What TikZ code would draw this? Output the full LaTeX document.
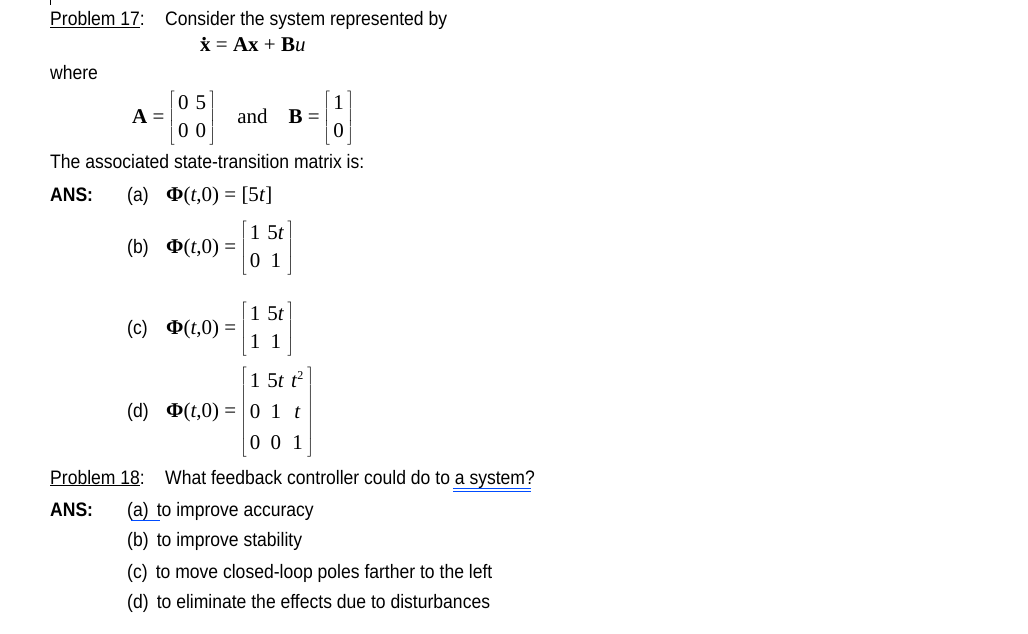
\documentclass[tikz,border=0pt]{standalone}
\usepackage{fontspec}
\setmainfont{Liberation Sans}[FakeStretch=0.9]
\newfontfamily\tm{Liberation Serif}
\begin{document}
\begin{tikzpicture}[x=1pt,y=-1pt,
 txt/.style={anchor=base west,inner sep=0pt,font=\fontsize{19.5}{21}\selectfont},
 mth/.style={anchor=west,inner sep=0pt,font=\fontsize{21}{23}\selectfont\tm},
 blue/.style={draw=blue!70!cyan,line width=1pt}]
\useasboundingbox (0,0) rectangle (1028,634);
\draw[line width=0.8pt] (50,0) -- (50,5);
\node[txt] (p17) at (50,26) {\underline{Problem 17}:};
\node[txt] (c17) at (165,26) {Consider the system represented by};
\node[mth,anchor=base west] (eq) at (200,52) {\textbf{x}\llap{\raisebox{0.55em}{\textbf{.}}\kern0.18em} = \textbf{Ax} + \textbf{B}\textit{u}};
\node[txt] (wh) at (50,80) {where};
\node[mth] (A) at (132,118) {\textbf{A} =\,$\left[\renewcommand\arraystretch{1.2}\begin{tabular}{@{\,}c@{\,\,}c@{\,}}0&5\\0&0\end{tabular}\right]$\quad and\quad \textbf{B} =\,$\left[\renewcommand\arraystretch{1.2}\begin{tabular}{@{\,}c@{\,}}1\\0\end{tabular}\right]$};
\node[txt] (assoc) at (50,168) {The associated state-transition matrix is:};
\node[txt] (ans1) at (50,201) {\textbf{ANS:}};
\node[txt] (a) at (127,201) {(a)};
\node[mth,anchor=base west] (am) at (166,201) {\textbf{Φ}(\textit{t},0) = [5\textit{t}]};
\node[txt,anchor=west] (b) at (127,248) {(b)};
\node[mth] (bm) at (166,248) {\textbf{Φ}(\textit{t},0) =\,$\left[\renewcommand\arraystretch{1.2}\begin{tabular}{@{\,}c@{\,\,}c@{\,}}1&5\textit{t}\\0&1\end{tabular}\right]$};
\node[txt,anchor=west] (c) at (127,329) {(c)};
\node[mth] (cm) at (166,329) {\textbf{Φ}(\textit{t},0) =\,$\left[\renewcommand\arraystretch{1.2}\begin{tabular}{@{\,}c@{\,\,}c@{\,}}1&5\textit{t}\\1&1\end{tabular}\right]$};
\node[txt,anchor=west] (d) at (127,412) {(d)};
\node[mth] (dm) at (166,412) {\textbf{Φ}(\textit{t},0) =\,$\left[\renewcommand\arraystretch{1.35}\begin{tabular}{@{\,}c@{\,\,}c@{\,\,}c@{\,}}1&5\textit{t}&\textit{t}$^{\mbox{\fontsize{12}{12}\selectfont\tm 2}}$\\0&1&\textit{t}\\0&0&1\end{tabular}\right]$};
\node[txt] (p18) at (50,484) {\underline{Problem 18}:};
\node[txt] (c18) at (165,484) {What feedback controller could do to a system?};
\draw[blue] (453,488) -- (531,488);
\draw[blue] (453,491) -- (531,491);
\node[txt] (ans2) at (50,516) {\textbf{ANS:}};
\node[txt] (qa) at (127,516) {(a)\, to improve accuracy};
\draw[blue] (131,520) -- (160,520);
\node[txt] (qb) at (127,546) {(b)\, to improve stability};
\node[txt] (qc) at (127,578) {(c)\, to move closed-loop poles farther to the left};
\node[txt] (qd) at (127,608) {(d)\, to eliminate the effects due to disturbances};
\end{tikzpicture}
\end{document}
